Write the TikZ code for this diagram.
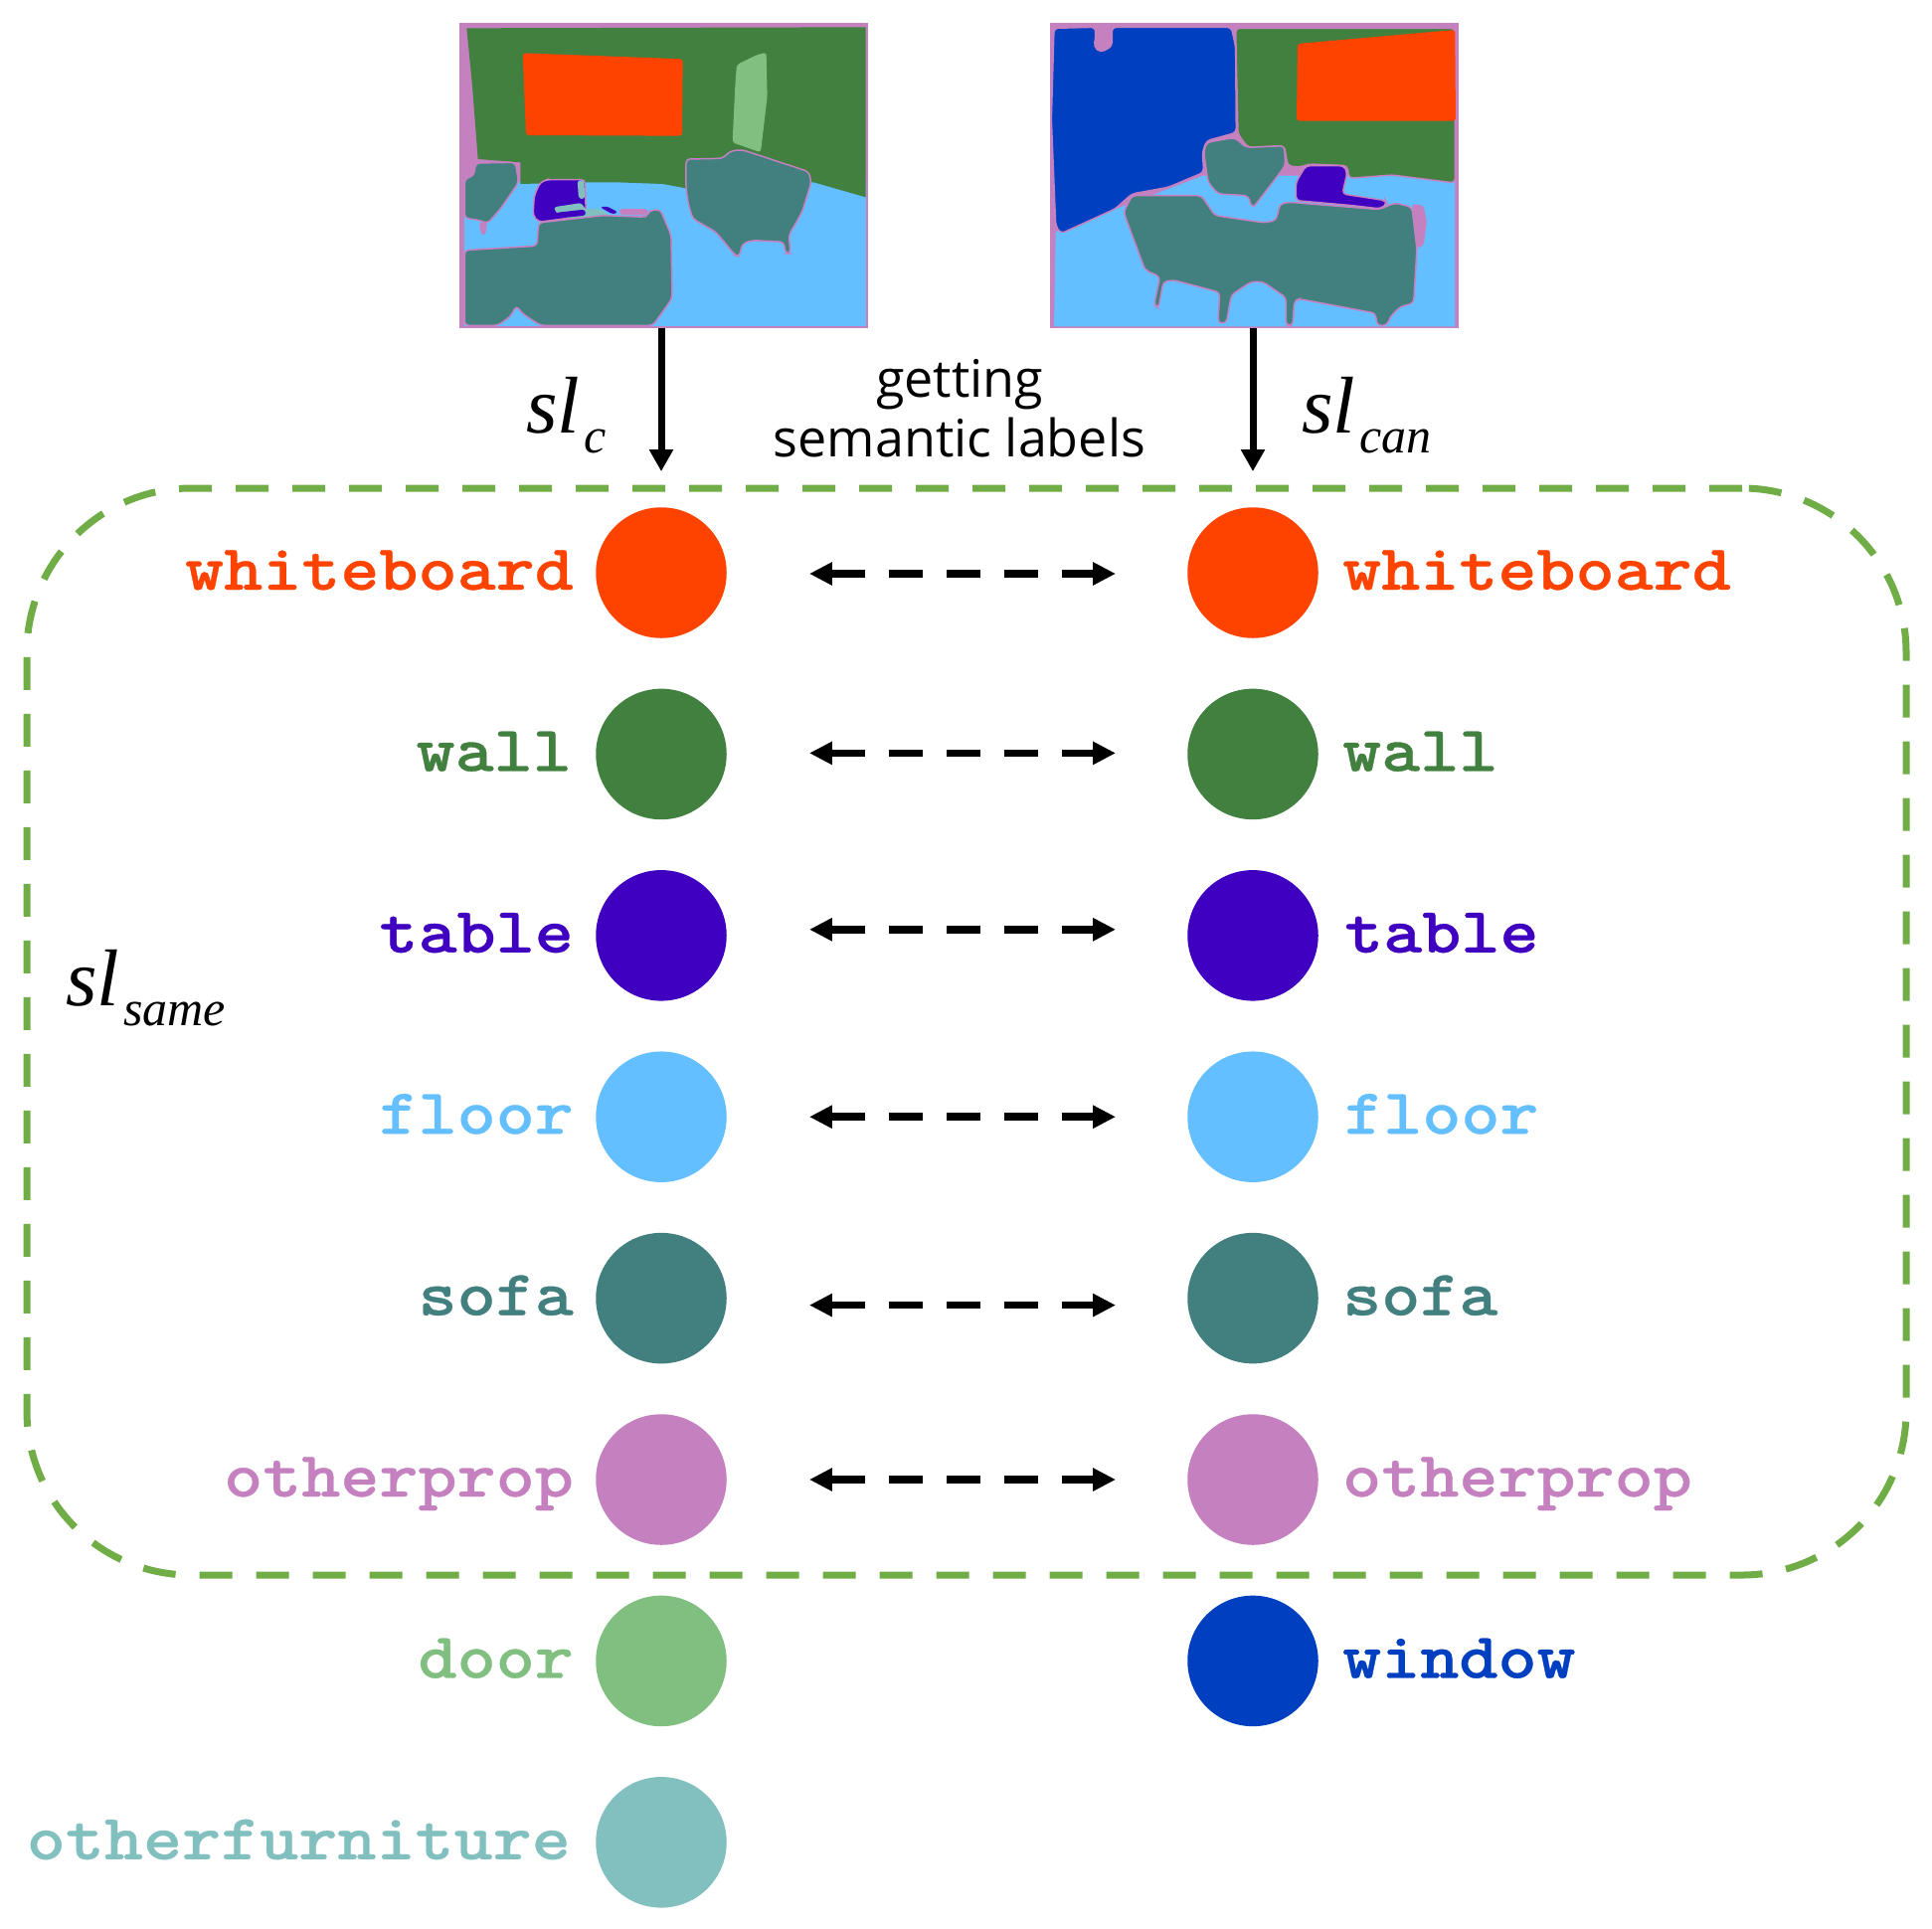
\documentclass[tikz,border=0pt]{standalone}
\usepackage{fontspec}
\usepackage{tikz}
\usetikzlibrary{arrows.meta,
                    chains,
                    positioning}
\newfontfamily\labfamily[FakeStretch=1.145,FakeBold=0.5]{lmmonolt10-bold.otf}
\newfontfamily\capfamily{Open Sans}
\newfontfamily\symfamily{Liberation Serif Italic}
\newcommand{\labfont}{\labfamily\fontsize{65}{65}\selectfont}
\newcommand{\symlab}[1]{sl\kern4pt\raisebox{-20pt}{\fontsize{50}{50}\selectfont #1}}
\definecolor{whiteboardc}{HTML}{FE4300}
\definecolor{wallc}{HTML}{428040}
\definecolor{tablec}{HTML}{3F00BF}
\definecolor{floorc}{HTML}{63BFFF}
\definecolor{sofac}{HTML}{42807F}
\definecolor{propc}{HTML}{C480BF}
\definecolor{doorc}{HTML}{80BF80}
\definecolor{furnc}{HTML}{82BFBF}
\definecolor{windowc}{HTML}{003FBF}
\definecolor{framec}{HTML}{70AD47}

\begin{document}
\begin{tikzpicture}[
            x=1pt,y=-1pt,
            dot/.style={
              circle,
              fill=#1,
              inner sep=0pt,
              minimum size=131.5pt
            },
            lab/.style={
              text=#1,
              font=\labfont,
              inner sep=0pt,
              text height=34pt,
              text depth=0pt
            },
            symb/.style={
              anchor=base west,
              inner sep=0pt,
              font=\symfamily\fontsize{81}{81}\selectfont
            },
            imgbox/.style={
              fill=propc,
              inner sep=0pt,
              minimum width=411pt,
              minimum height=307pt
            },
            seg/.style={
              fill=#1,
              draw=propc,
              line width=1.5pt,
              rounded corners=4pt
            },
            patch/.style={
              fill=#1,
              rounded corners=3pt
            },
            down/.style={
              -{Triangle[length=22pt,width=23pt]},
              line width=7pt,
              shorten >=36pt
            },
            pair/.style={
              {Triangle[length=23pt,width=22pt]}-{Triangle[length=23pt,width=22pt]},
              line width=7.5pt,
              dash pattern=on 34pt off 24pt,
              shorten <=83pt,
              shorten >=72pt
            },
            node distance=50.5pt
            ]
            \useasboundingbox (0,0) rectangle (1943,1939);

            % segmentation maps
            \node[imgbox] (imgc) at (667.3,176.7) {};
            \node[imgbox] (imgcan) at (1261,176.7) {};

            \begin{scope}[shift={(460,20)},x=0.3333pt,y=-0.3333pt]
            \fill[floorc] (22,490) -- (1232,490) -- (1232,925) -- (22,925) -- cycle;
            \fill[wallc] (28,25) -- (1232,22) -- (1232,535) -- (1075,490) -- (700,510) -- (620,495) -- (480,490) -- (390,490) -- (190,495) -- (190,430) -- (62,420) -- (55,330) -- (45,200) -- cycle;
            \fill[patch=whiteboardc] (197,100) -- (680,118) -- (678,350) -- (207,348) -- cycle;
            \fill[patch=doorc] (843,135) -- (905,105) -- (932,98) -- (935,230) -- (915,400) -- (830,370) -- (838,200) -- cycle;
            \draw[seg=sofac] (690,420) -- (800,418) -- (825,395) -- (860,392) -- (1060,458) -- (1068,490) -- (1040,580) -- (1000,650) -- (1005,705) -- (990,705) -- (985,670) -- (890,665) -- (860,675) -- (850,715) -- (838,710) -- (780,640) -- (710,600) -- (698,560) -- (690,510) -- cycle;
            \fill[patch=propc] (65,610) -- (90,610) -- (85,648) -- (72,648) -- cycle;
            \draw[seg=sofac] (55,432) -- (175,430) -- (185,490) -- (130,570) -- (90,615) -- (70,605) -- (22,598) -- (22,480) -- (50,470) -- cycle;
            \fill[patch=propc] (488,570) -- (575,570) -- (575,590) -- (490,588) -- cycle;
            \draw[seg=tablec] (232,530) -- (250,490) -- (270,482) -- (385,482) -- (388,590) -- (320,600) -- (245,610) -- (228,590) -- cycle;
            \fill[patch=furnc] (362,484) -- (382,484) -- (385,540) -- (366,540) -- cycle;
            \fill[patch=furnc] (290,565) -- (375,552) -- (385,572) -- (430,570) -- (460,590) -- (330,598) -- (300,585) -- cycle;
            \fill[patch=tablec] (295,582) -- (385,572) -- (388,590) -- (310,598) -- cycle;
            \fill[patch=tablec] (430,565) -- (450,562) -- (485,580) -- (470,587) -- cycle;
            \draw[seg=sofac] (245,612) -- (440,590) -- (570,595) -- (580,575) -- (612,572) -- (645,650) -- (648,840) -- (620,880) -- (590,922) -- (250,922) -- (195,885) -- (178,862) -- (160,895) -- (122,922) -- (22,922) -- (22,695) -- (240,682) -- cycle;
            \end{scope}

            \begin{scope}[shift={(1050,20)},x=0.3333pt,y=-0.3333pt]
            \fill[floorc] (35,640) -- (480,470) -- (1240,470) -- (1240,925) -- (30,925) -- cycle;
            \draw[seg=windowc] (30,25) -- (155,22) -- (155,60) -- (150,80) -- (170,98) -- (205,80) -- (205,22) -- (565,22) -- (578,80) -- (580,340) -- (490,365) -- (478,400) -- (482,460) -- (375,505) -- (265,525) -- (215,570) -- (50,645) -- (35,620) -- (22,300) -- cycle;
            \draw[seg=wallc] (578,25) -- (1240,25) -- (1240,492) -- (1050,468) -- (920,478) -- (915,440) -- (800,435) -- (770,445) -- (735,440) -- (725,380) -- (615,385) -- (585,345) -- cycle;
            \fill[patch=whiteboardc] (765,72) -- (1240,30) -- (1242,305) -- (762,305) -- cycle;
            \draw[seg=sofac] (490,370) -- (575,355) -- (610,385) -- (725,380) -- (728,440) -- (640,555) -- (628,568) -- (615,530) -- (525,525) -- (495,490) -- (482,400) -- cycle;
            \draw[seg=tablec] (760,490) -- (790,440) -- (905,440) -- (915,460) -- (900,525) -- (1030,545) -- (1035,555) -- (1015,570) -- (930,560) -- (760,545) -- cycle;
            \fill[patch=propc] (1110,555) -- (1145,560) -- (1155,610) -- (1145,680) -- (1125,690) -- cycle;
            \draw[seg=sofac] (240,580) -- (265,530) -- (475,530) -- (515,590) -- (665,612) -- (700,605) -- (712,555) -- (740,550) -- (1010,572) -- (1060,552) -- (1110,565) -- (1125,690) -- (1115,855) -- (1075,865) -- (1045,895) -- (1035,922) -- (1005,922) -- (1000,885) -- (770,842) -- (755,848) -- (750,922) -- (730,922) -- (730,838) -- (660,790) -- (625,790) -- (565,830) -- (550,915) -- (525,915) -- (530,822) -- (390,785) -- (360,790) -- (345,870) -- (332,860) -- (350,775) -- (305,755) -- cycle;
            \end{scope}

            % dashed frame of the shared labels
            \node[draw=framec,line width=7pt,rounded corners=165pt,dash pattern=on 33pt off 24pt,
              minimum width=1890pt,minimum height=1093pt,inner sep=0pt] (same) at (972,1037.5) {};

            % left column
            \begin{scope}[start chain=1 going below]
            \node[on chain=1,dot=whiteboardc] at (665,576) (whitel) {};
            \node[on chain=1,dot=wallc] (walll) {};
            \node[on chain=1,dot=tablec] (tablel) {};
            \node[on chain=1,dot=floorc] (floorl) {};
            \node[on chain=1,dot=sofac] (sofal) {};
            \node[on chain=1,dot=propc] (propl) {};
            \node[on chain=1,dot=doorc] (doorl) {};
            \node[on chain=1,dot=furnc] (furnl) {};
            \end{scope}

            % right column
            \begin{scope}[start chain=2 going below]
            \node[on chain=2,dot=whiteboardc] at (1260,576) (whiter) {};
            \node[on chain=2,dot=wallc] (wallr) {};
            \node[on chain=2,dot=tablec] (tabler) {};
            \node[on chain=2,dot=floorc] (floorr) {};
            \node[on chain=2,dot=sofac] (sofar) {};
            \node[on chain=2,dot=propc] (propr) {};
            \node[on chain=2,dot=windowc] (windowr) {};
            \end{scope}

            % class names
            \node[lab=whiteboardc,left=22pt of whitel] (whitelab) {whiteboard};
            \node[lab=wallc,left=24pt of walll] (walllab) {wall};
            \node[lab=tablec,left=22pt of tablel] (tablelab) {table};
            \node[lab=floorc,left=22pt of floorl] (floorlab) {floor};
            \node[lab=sofac,left=22pt of sofal] (sofalab) {sofa};
            \node[lab=propc,left=22pt of propl] (proplab) {otherprop};
            \node[lab=doorc,left=22pt of doorl] (doorlab) {door};
            \node[lab=furnc,left=25pt of furnl] (furnlab) {otherfurniture};
            \node[lab=whiteboardc,right=24pt of whiter] (whitelabr) {whiteboard};
            \node[lab=wallc,right=24pt of wallr] (walllabr) {wall};
            \node[lab=tablec,right=26pt of tabler] (tablelabr) {table};
            \node[lab=floorc,right=26pt of floorr] (floorlabr) {floor};
            \node[lab=sofac,right=24pt of sofar] (sofalabr) {sofa};
            \node[lab=propc,right=24pt of propr] (proplabr) {otherprop};
            \node[lab=windowc,right=24pt of windowr] (windowlabr) {window};

            % symbols and caption
            \node[symb] at (529,435) (slc) {\symlab{c}};
            \node[symb] at (1309,435) (slcan) {\symlab{can}};
            \node[symb] at (66,1011) (slsame) {\symlab{same}};
            \node[align=center,inner sep=0pt,font=\capfamily\fontsize{52}{60}\selectfont] at (965,411) (cap) {getting\\semantic labels};

            \draw[down] (imgc.south -| whitel) -- (whitel);
            \draw[down] (imgcan.south -| whiter) -- (whiter);

            \draw[pair] ([yshift=-1pt]whitel.east) -- ([yshift=-1pt]whiter.west);
            \draw[pair] ([yshift=1pt]walll.east) -- ([yshift=1pt]wallr.west);
            \draw[pair] ([yshift=6pt]tablel.east) -- ([yshift=6pt]tabler.west);
            \draw[pair] (floorl.east) -- (floorr.west);
            \draw[pair] ([yshift=-7pt]sofal.east) -- ([yshift=-7pt]sofar.west);
            \draw[pair] (propl.east) -- (propr.west);
\end{tikzpicture}
\end{document}
